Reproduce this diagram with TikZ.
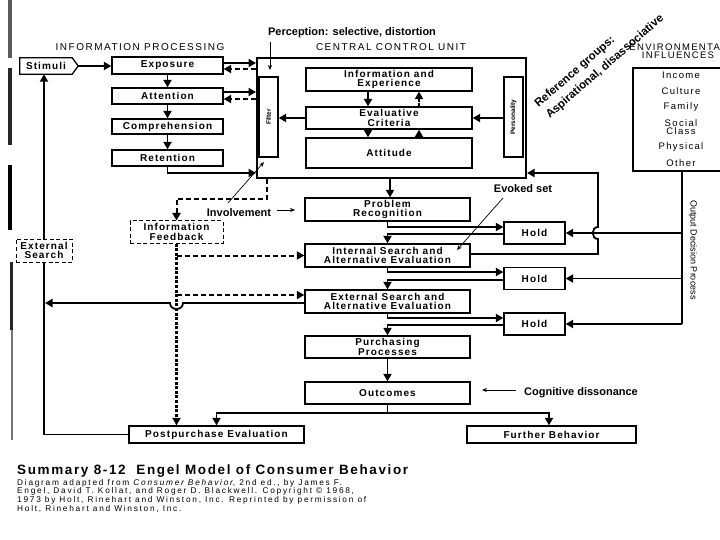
\documentclass[tikz,border=0pt]{standalone}
\usepackage{fontspec}
\setmainfont{Liberation Sans}
\newfontfamily\trk[LetterSpace=11]{Liberation Sans}
\newfontfamily\trkt[LetterSpace=15]{Liberation Sans}
\newfontfamily\trkb[LetterSpace=14]{Liberation Sans}
\newfontfamily\trkc[LetterSpace=12]{Liberation Sans}
\newfontfamily\trks[LetterSpace=21]{Liberation Sans}
\usetikzlibrary{arrows.meta}
\begin{document}
\begin{tikzpicture}[x=1pt,y=-1pt,
  every node/.style={inner sep=0pt},
  bxf/.style={font=\trk\bfseries\fontsize{10}{9.5}\selectfont},
  box/.style={draw, line width=1.3pt, align=center, bxf},
  dbox/.style={box, fill=white, line width=1pt, dash pattern=on 4pt off 2.5pt},
  tipT/.style={-{Triangle[length=7.5pt,width=8pt]}},
  arr/.style={line width=1.9pt, tipT},
  ln/.style={line width=1.8pt},
  darr/.style={line width=2pt, dash pattern=on 5pt off 3pt, tipT},
  dotln/.style={line width=2.6pt, dash pattern=on 3pt off 1.6pt},
  dotarr/.style={dotln, tipT},
  thinarr/.style={line width=0.7pt, -{Stealth[length=5pt,width=4pt]}},
  note/.style={font=\bfseries\fontsize{11}{11}\selectfont},
  rnote/.style={font=\bfseries\fontsize{11.5}{11.5}\selectfont, rotate=41},
  ttl/.style={font=\trkt\fontsize{10}{10}\selectfont},
  envt/.style={font=\trkb\fontsize{9.5}{8.5}\selectfont, align=center},
]
\useasboundingbox (0,0) rectangle (720,540);
\fill[white] (0,0) rectangle (720,540);
\clip (0,0) rectangle (720,540);

% scan stripe at the left edge
\draw[line width=3.5pt, black!65] (10,0) -- (10,58);
\draw[line width=3.5pt, black!85] (10,68) -- (10,145);
\draw[line width=4pt, black] (10,165) -- (10,230);
\draw[line width=3pt, black!85] (11,262) -- (11,330);
\draw[line width=1.5pt, black!55] (12,330) -- (12,440);

% titles
\node[ttl] (tip) at (140,47) {INFORMATION PROCESSING};
\node[ttl] (tccu) at (391,47) {CENTRAL CONTROL UNIT};

% information processing
\node[bxf, minimum width=52pt, minimum height=16pt] (stim) at (46,66) {Stimuli};
\draw[line width=1.3pt] (stim.north west) -- (stim.north east) -- ([xshift=6pt]stim.east) -- (stim.south east) -- (stim.south west) -- cycle;
\coordinate (stimtip) at ([xshift=6pt]stim.east);
\node[box, minimum width=111pt, minimum height=17pt] (exp) at (167.5,65.5) {Exposure};
\node[box, minimum width=111pt, minimum height=16pt] (att) at (167.5,96) {Attention};
\node[box, minimum width=111pt, minimum height=15pt] (comp) at (167.5,126.5) {Comprehension};
\node[box, minimum width=111pt, minimum height=16pt] (ret) at (167.5,158) {Retention};

% central control unit
\node[draw, line width=2pt, minimum width=269pt, minimum height=120pt] (ccu) at (391.5,118) {};
\node[draw, line width=1.3pt, minimum width=19pt, minimum height=80pt] (filt) at (268.5,117) {};
\node[rotate=90, font=\bfseries\fontsize{6.5}{6.5}\selectfont] (filtt) at (filt.center) {Filter};
\node[box, minimum width=166pt, minimum height=23pt] (info) at (389,79.5) {Information and\\Experience};
\node[box, minimum width=166pt, minimum height=22pt] (eval) at (389,118) {Evaluative\\Criteria};
\node[box, minimum width=166pt, minimum height=30pt] (attd) at (389,153) {Attitude};
\node[draw, line width=1.3pt, minimum width=19pt, minimum height=80pt] (pers) at (513.5,117) {};
\node[rotate=90, font=\bfseries\fontsize{6.5}{6.5}\selectfont] (perst) at (pers.center) {Personality};

% decision process
\node[box, minimum width=165pt, minimum height=23pt] (pr) at (387.5,209.5) {Problem\\Recognition};
\node[box, minimum width=165pt, minimum height=23pt] (isa) at (387.5,255.5) {Internal Search and\\Alternative Evaluation};
\node[box, minimum width=165pt, minimum height=23pt] (esa) at (387.5,301.5) {External Search and\\Alternative Evaluation};
\node[box, minimum width=165pt, minimum height=22pt] (pp) at (387.5,347) {Purchasing\\Processes};
\node[box, minimum width=165pt, minimum height=22pt] (out) at (387.5,393) {Outcomes};
\node[box, minimum width=169pt, minimum height=17pt] (fb) at (551.5,434.5) {Further Behavior};
\node[box, minimum width=175pt, minimum height=17pt] (pe) at (216.5,434.5) {Postpurchase Evaluation};
\node[dbox, minimum width=93pt, minimum height=22pt] (ifb) at (176.5,232) {Information\\Feedback};
\node[box, minimum width=61pt, minimum height=22pt] (h1) at (534.5,233) {Hold};
\node[box, minimum width=61pt, minimum height=22pt] (h2) at (534.5,278.5) {Hold};
\node[box, minimum width=61pt, minimum height=22pt] (h3) at (534.5,324) {Hold};

% environmental influences
\node[draw, line width=1.3pt, minimum width=92pt, minimum height=103pt] (env) at (679,119.5) {};
\node[envt] (envtt) at (678,51) {ENVIRONMENTAL\\INFLUENCES};
\node[envt] (inc) at (681,75) {Income};
\node[envt] (cul) at (681,91) {Culture};
\node[envt] (fam) at (681,107) {Family};
\node[envt, font=\trkb\fontsize{9.5}{8}\selectfont] (soc) at (681,127) {Social\\Class};
\node[envt] (phy) at (681,147) {Physical};
\node[envt] (oth) at (681,163) {Other};
\node[font=\fontsize{9}{9}\selectfont, rotate=-90] (odpt) at (693,250) {Output Decision Process};

% information processing connectors
\draw[arr] (stimtip) -- (exp.west |- stimtip);
\draw[arr] (exp.south) -- (att.north);
\draw[arr] (att.south) -- (comp.north);
\draw[arr] (comp.south) -- (ret.north);
\draw[arr] ([yshift=2.5pt]exp.east) -- ([yshift=2.5pt]exp.east -| ccu.west);
\draw[darr] ([yshift=-3.5pt]exp.east -| ccu.west) -- ([yshift=-3.5pt]exp.east);
\draw[arr] ([yshift=4pt]att.east) -- ([yshift=4pt]att.east -| ccu.west);
\draw[darr] ([yshift=-3pt]att.east -| ccu.west) -- ([yshift=-3pt]att.east);
\draw[arr] (ret.south) |- ([yshift=6pt]ccu.south west);

% inside the central control unit
\draw[arr] ([xshift=-21pt]info.south) -- ([xshift=-21pt]eval.north);
\draw[dotarr] ([xshift=30pt]eval.north) -- ([xshift=30pt]info.south);
\draw[arr] ([xshift=-21pt]eval.south) -- ([xshift=-21pt]attd.north);
\draw[dotarr] ([xshift=30pt]attd.north) -- ([xshift=30pt]eval.south);
\draw[arr] (eval.west) -- (eval.west -| filt.east);
\draw[arr] (pers.west |- eval.east) -- (eval.east);

% decision column
\draw[arr] ([xshift=2.5pt]pr.north |- ccu.south) -- ([xshift=2.5pt]pr.north);
\draw[ln, tipT] (pr.south) |- ([yshift=6pt]h1.west);
\draw[ln, tipT] ([yshift=-1pt]h1.west) -| (isa.north);
\draw[ln, tipT] (isa.south) |- ([yshift=6.5pt]h2.west);
\draw[ln, tipT] ([yshift=-1.5pt]h2.west) -| (esa.north);
\draw[ln, tipT] (esa.south) |- ([yshift=6pt]h3.west);
\draw[ln, tipT] ([yshift=-1pt]h3.west) -| (pp.north);
\draw[arr] (pp.south) -- (out.north);
\coordinate (obr) at (387.5,413);
\draw[ln] (out.south) -- (obr);
\draw[arr] (obr) -| (pe.north);
\draw[arr] (obr) -| ([xshift=-2.5pt]fb.north);

% output decision process
\draw[line width=2pt] ([xshift=3pt]env.south) -- ([xshift=3pt]env.south |- h3.east);
\draw[ln, tipT] ([xshift=3pt]env.south |- h1.east) -- (h1.east);
\draw[ln, tipT] ([xshift=3pt]env.south |- h2.east) -- (h2.east);
\draw[ln, tipT] ([xshift=3pt]env.south |- h3.east) -- (h3.east);

% internal search back to the central control unit
\draw[ln, tipT] ([yshift=1.5pt]isa.east) -- (598,254) -- (598,239) .. controls (591,239) and (591,227) .. (598,227) -- (598,173) -- ([yshift=-55pt]ccu.east);

% feedback loops
\draw[ln, tipT] (pe.west) -| ([xshift=-2pt]stim.south);
\node[dbox, minimum width=56pt, minimum height=23pt] (exs) at (44,250.5) {External\\Search};
\draw[darr] ([xshift=11pt]ccu.south west) -- ++(0,20) -| (ifb.north);
\draw[dotarr] (ifb.south) -- (ifb.south |- pe.north);
\draw[darr] (ifb.south |- isa.west) -- (isa.west);
\draw[darr] ([yshift=6.5pt]esa.west -| ifb.south) -- ([yshift=6.5pt]esa.west);
\draw[ln, tipT] ([yshift=-1.5pt]esa.west) -- (183,303) .. controls (183,311) and (170,311) .. (170,303) -- ([xshift=1pt]exs.center |- 0,303);

% annotations
\node[note] (perc) at (352,33) {Perception: selective, distortion};
\coordinate (pa1) at (270,42); \coordinate (pa2) at (270,70);
\draw[thinarr] (pa1) -- (pa2);
\node[note] (evk) at (523,189) {Evoked set};
\coordinate (ea1) at (503,198); \coordinate (ea2) at (457,250);
\draw[thinarr] (ea1) -- (ea2);
\node[note] (inv) at (239,213) {Involvement};
\coordinate (ia1) at (228,203); \coordinate (ia2) at (264,162);
\draw[thinarr] (ia1) -- (ia2);
\coordinate (ib1) at (277,210); \coordinate (ib2) at (295,210);
\draw[thinarr] (ib1) -- (ib2);
\node[note] (cog) at (581,393) {Cognitive dissonance};
\coordinate (ca1) at (516,390); \coordinate (ca2) at (482,390);
\draw[thinarr] (ca1) -- (ca2);
\node[rnote] (rg) at (575,72) {Reference groups:};
\node[rnote] (asp) at (605,67) {Aspirational, disassociative};

% caption
\node[anchor=base west, font=\trkc\bfseries\fontsize{13.5}{13.5}\selectfont] (cap) at (17,474) {Summary 8-12\ \ Engel Model of Consumer Behavior};
\node[anchor=north west, align=left, font=\trks\fontsize{8.3}{7.2}\selectfont] (src) at (17,479) {Diagram adapted from \textit{Consumer Behavior}, 2nd ed., by James F.\\Engel, David T. Kollat, and Roger D. Blackwell. Copyright \textcopyright\ 1968,\\1973 by Holt, Rinehart and Winston, Inc. Reprinted by permission of\\Holt, Rinehart and Winston, Inc.};
\end{tikzpicture}
\end{document}
